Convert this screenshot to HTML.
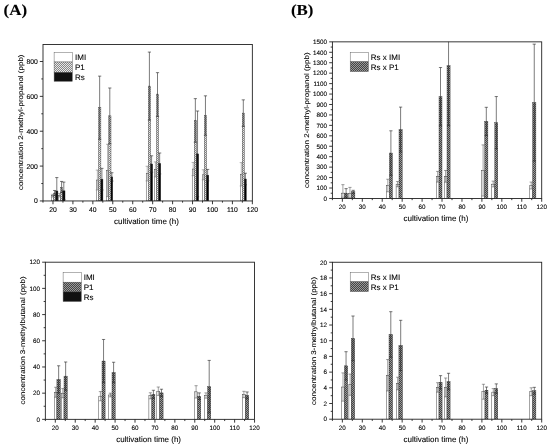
<!DOCTYPE html>
<html><head><meta charset="utf-8"><title>Figure</title>
<style>html,body{margin:0;padding:0;background:#fff}svg{display:block}text{font-family:"Liberation Sans",Arial,sans-serif;fill:#000;stroke:#000;stroke-width:0.1px;text-rendering:geometricPrecision}.t{font-family:"Liberation Serif","Times New Roman",serif;font-weight:bold;fill:#000}</style></head><body>
<svg width="550" height="448" viewBox="0 0 550 448">
<defs>
<pattern id="hl" width="2" height="2" patternUnits="userSpaceOnUse"><rect width="2" height="2" fill="#e8e8e8"/><path d="M-0.5 0.5L0.5 -0.5M0 2L2 0M1.5 2.5L2.5 1.5" stroke="#111" stroke-width="0.46"/></pattern>
<pattern id="hd" width="2" height="2" patternUnits="userSpaceOnUse"><rect width="2" height="2" fill="#999"/><path d="M-0.5 0.5L0.5 -0.5M0 2L2 0M1.5 2.5L2.5 1.5" stroke="#111" stroke-width="0.63"/></pattern>
</defs>
<rect width="550" height="448" fill="#fff"/>
<g>
<clipPath id="cA"><rect x="43" y="44.5" width="209.35" height="156.45"/></clipPath>
<g clip-path="url(#cA)">
<rect x="51.4" y="195.72" width="2.1" height="5.23" fill="#fff" stroke="#222" stroke-width="0.42"/>
<rect x="53.5" y="193.11" width="2.2" height="7.84" fill="url(#hl)" stroke="#222" stroke-width="0.35"/>
<rect x="55.7" y="191.01" width="2.2" height="9.94" fill="#000" stroke="#222" stroke-width="0.42"/>
<path d="M52.45 194.33V197.12M50.85 194.33H54.05M50.85 197.12H54.05" fill="none" stroke="#6a6a6a" stroke-width="0.5"/>
<path d="M54.6 190.49V195.72M53 190.49H56.2M53 195.72H56.2" fill="none" stroke="#222" stroke-width="0.6"/>
<path d="M56.8 177.59V200.95M55.2 177.59H58.4M55.2 200.95H58.4" fill="none" stroke="#222" stroke-width="0.6"/>
<rect x="58.6" y="195.2" width="2" height="5.75" fill="#fff" stroke="#222" stroke-width="0.42"/>
<rect x="60.6" y="187.35" width="2" height="13.6" fill="url(#hl)" stroke="#222" stroke-width="0.35"/>
<rect x="62.6" y="190.84" width="2.4" height="10.11" fill="#000" stroke="#222" stroke-width="0.42"/>
<path d="M59.6 193.45V196.94M58 193.45H61.2M58 196.94H61.2" fill="none" stroke="#6a6a6a" stroke-width="0.5"/>
<path d="M61.6 181.43V192.58M60 181.43H63.2M60 192.58H63.2" fill="none" stroke="#222" stroke-width="0.6"/>
<path d="M63.8 182.12V199.56M62.2 182.12H65.4M62.2 199.56H65.4" fill="none" stroke="#222" stroke-width="0.6"/>
<rect x="96.3" y="180.03" width="2.1" height="20.92" fill="#fff" stroke="#222" stroke-width="0.42"/>
<rect x="98.4" y="107.69" width="2.5" height="93.26" fill="url(#hl)" stroke="#222" stroke-width="0.35"/>
<rect x="100.9" y="179.16" width="2" height="21.79" fill="#000" stroke="#222" stroke-width="0.42"/>
<path d="M97.35 170.1V189.97M95.75 170.1H98.95M95.75 189.97H98.95" fill="none" stroke="#6a6a6a" stroke-width="0.5"/>
<path d="M99.65 76.14V139.24M98.05 76.14H101.25M98.05 139.24H101.25" fill="none" stroke="#222" stroke-width="0.6"/>
<path d="M101.9 168.35V189.97M100.3 168.35H103.5M100.3 189.97H103.5" fill="none" stroke="#222" stroke-width="0.6"/>
<rect x="106.6" y="170.44" width="2" height="30.51" fill="#fff" stroke="#222" stroke-width="0.42"/>
<rect x="108.6" y="115.88" width="2.4" height="85.07" fill="url(#hl)" stroke="#222" stroke-width="0.35"/>
<rect x="111" y="176.89" width="1.7" height="24.06" fill="#000" stroke="#222" stroke-width="0.42"/>
<path d="M107.6 144.3V196.59M106 144.3H109.2M106 196.59H109.2" fill="none" stroke="#6a6a6a" stroke-width="0.5"/>
<path d="M109.8 87.99V143.77M108.2 87.99H111.4M108.2 143.77H111.4" fill="none" stroke="#222" stroke-width="0.6"/>
<path d="M111.85 172.71V181.08M110.25 172.71H113.45M110.25 181.08H113.45" fill="none" stroke="#222" stroke-width="0.6"/>
<rect x="146.2" y="173.58" width="2" height="27.37" fill="#fff" stroke="#222" stroke-width="0.42"/>
<rect x="148.2" y="86.07" width="2.4" height="114.88" fill="url(#hl)" stroke="#222" stroke-width="0.35"/>
<rect x="150.6" y="163.99" width="2" height="36.96" fill="#000" stroke="#222" stroke-width="0.42"/>
<path d="M147.2 166.26V180.9M145.6 166.26H148.8M145.6 180.9H148.8" fill="none" stroke="#6a6a6a" stroke-width="0.5"/>
<path d="M149.4 52.08V120.07M147.8 52.08H151M147.8 120.07H151" fill="none" stroke="#222" stroke-width="0.6"/>
<path d="M151.6 155.8V172.19M150 155.8H153.2M150 172.19H153.2" fill="none" stroke="#222" stroke-width="0.6"/>
<rect x="154.4" y="169.4" width="2" height="31.55" fill="#fff" stroke="#222" stroke-width="0.42"/>
<rect x="156.4" y="94.09" width="2.2" height="106.86" fill="url(#hl)" stroke="#222" stroke-width="0.35"/>
<rect x="158.6" y="163.47" width="2.1" height="37.48" fill="#000" stroke="#222" stroke-width="0.42"/>
<path d="M155.4 161.9V176.89M153.8 161.9H157M153.8 176.89H157" fill="none" stroke="#6a6a6a" stroke-width="0.5"/>
<path d="M157.5 72.65V116.41M155.9 72.65H159.1M155.9 116.41H159.1" fill="none" stroke="#222" stroke-width="0.6"/>
<path d="M159.65 153.01V173.93M158.05 153.01H161.25M158.05 173.93H161.25" fill="none" stroke="#222" stroke-width="0.6"/>
<rect x="192.2" y="169.05" width="2" height="31.9" fill="#fff" stroke="#222" stroke-width="0.42"/>
<rect x="194.2" y="120.42" width="2.3" height="80.53" fill="url(#hl)" stroke="#222" stroke-width="0.35"/>
<rect x="196.5" y="153.88" width="2.1" height="47.07" fill="#000" stroke="#222" stroke-width="0.42"/>
<path d="M193.2 162.43V175.67M191.6 162.43H194.8M191.6 175.67H194.8" fill="none" stroke="#6a6a6a" stroke-width="0.5"/>
<path d="M195.35 98.63V142.2M193.75 98.63H196.95M193.75 142.2H196.95" fill="none" stroke="#222" stroke-width="0.6"/>
<path d="M197.55 111V196.77M195.95 111H199.15M195.95 196.77H199.15" fill="none" stroke="#222" stroke-width="0.6"/>
<rect x="202.4" y="174.8" width="1.9" height="26.15" fill="#fff" stroke="#222" stroke-width="0.42"/>
<rect x="204.3" y="115.53" width="2.3" height="85.42" fill="url(#hl)" stroke="#222" stroke-width="0.35"/>
<rect x="206.6" y="175.15" width="2.1" height="25.8" fill="#000" stroke="#222" stroke-width="0.42"/>
<path d="M203.35 169.75V179.86M201.75 169.75H204.95M201.75 179.86H204.95" fill="none" stroke="#6a6a6a" stroke-width="0.5"/>
<path d="M205.45 95.84V135.23M203.85 95.84H207.05M203.85 135.23H207.05" fill="none" stroke="#222" stroke-width="0.6"/>
<path d="M207.65 169.4V180.9M206.05 169.4H209.25M206.05 180.9H209.25" fill="none" stroke="#222" stroke-width="0.6"/>
<rect x="240.4" y="174.28" width="1.8" height="26.67" fill="#fff" stroke="#222" stroke-width="0.42"/>
<rect x="242.2" y="113.09" width="2.2" height="87.86" fill="url(#hl)" stroke="#222" stroke-width="0.35"/>
<rect x="244.4" y="178.99" width="1.9" height="21.96" fill="#000" stroke="#222" stroke-width="0.42"/>
<path d="M241.3 162.6V185.96M239.7 162.6H242.9M239.7 185.96H242.9" fill="none" stroke="#6a6a6a" stroke-width="0.5"/>
<path d="M243.3 99.85V126.34M241.7 99.85H244.9M241.7 126.34H244.9" fill="none" stroke="#222" stroke-width="0.6"/>
<path d="M245.35 173.23V184.74M243.75 173.23H246.95M243.75 184.74H246.95" fill="none" stroke="#222" stroke-width="0.6"/>
</g>
<rect x="43" y="44.5" width="209.35" height="156.45" fill="none" stroke="#222" stroke-width="0.9"/>
<text x="52.97" y="211.85" font-size="6.8" text-anchor="middle">20</text>
<text x="72.91" y="211.85" font-size="6.8" text-anchor="middle">30</text>
<text x="92.85" y="211.85" font-size="6.8" text-anchor="middle">40</text>
<text x="112.78" y="211.85" font-size="6.8" text-anchor="middle">50</text>
<text x="132.72" y="211.85" font-size="6.8" text-anchor="middle">60</text>
<text x="152.66" y="211.85" font-size="6.8" text-anchor="middle">70</text>
<text x="172.6" y="211.85" font-size="6.8" text-anchor="middle">80</text>
<text x="192.54" y="211.85" font-size="6.8" text-anchor="middle">90</text>
<text x="212.47" y="211.85" font-size="6.8" text-anchor="middle">100</text>
<text x="232.41" y="211.85" font-size="6.8" text-anchor="middle">110</text>
<text x="252.35" y="211.85" font-size="6.8" text-anchor="middle">120</text>
<text x="37.9" y="203.4" font-size="6.8" text-anchor="end">0</text>
<text x="37.9" y="168.53" font-size="6.8" text-anchor="end">200</text>
<text x="37.9" y="133.67" font-size="6.8" text-anchor="end">400</text>
<text x="37.9" y="98.81" font-size="6.8" text-anchor="end">600</text>
<text x="37.9" y="63.94" font-size="6.8" text-anchor="end">800</text>
<path d="M52.97 200.95v3.3M72.91 200.95v3.3M92.85 200.95v3.3M112.78 200.95v3.3M132.72 200.95v3.3M152.66 200.95v3.3M172.6 200.95v3.3M192.54 200.95v3.3M212.47 200.95v3.3M232.41 200.95v3.3M252.35 200.95v3.3M43 200.95v1.7M62.94 200.95v1.7M82.88 200.95v1.7M102.81 200.95v1.7M122.75 200.95v1.7M142.69 200.95v1.7M162.63 200.95v1.7M182.57 200.95v1.7M202.5 200.95v1.7M222.44 200.95v1.7M242.38 200.95v1.7M43 200.95h-3.2M43 183.52h-1.7M43 166.09h-3.2M43 148.65h-1.7M43 131.22h-3.2M43 113.79h-1.7M43 96.36h-3.2M43 78.93h-1.7M43 61.5h-3.2" fill="none" stroke="#222" stroke-width="0.9"/>
<text x="146.4" y="223.6" font-size="8" text-anchor="middle">cultivation time (h)</text>
<text transform="translate(22.9 122.3) rotate(-90) scale(1 0.86)" font-size="8" text-anchor="middle">concentration 2-methyl-propanol (ppb)</text>
<rect x="54.1" y="52.6" width="18.2" height="9.4" fill="#fff" stroke="#555" stroke-width="0.45"/>
<text x="75" y="59.8" font-size="8">IMI</text>
<rect x="54.1" y="62" width="18.2" height="10.4" fill="url(#hl)" stroke="#555" stroke-width="0.45"/>
<text x="75" y="69.7" font-size="8">P1</text>
<rect x="54.1" y="72.4" width="18.2" height="8.9" fill="#111" stroke="#555" stroke-width="0.45"/>
<text x="75" y="79.7" font-size="8">Rs</text>
</g>
<g>
<clipPath id="cB"><rect x="332.4" y="41.85" width="209.3" height="156.6"/></clipPath>
<g clip-path="url(#cB)">
<rect x="341.2" y="193.13" width="3.4" height="5.32" fill="#fff" stroke="#222" stroke-width="0.42"/>
<rect x="344.6" y="193.13" width="3" height="5.32" fill="url(#hd)" stroke="#222" stroke-width="0.35"/>
<path d="M342.9 184.67V197.3M341.3 184.67H344.5M341.3 197.3H344.5" fill="none" stroke="#444" stroke-width="0.5"/>
<path d="M346.1 188.64V197.3M344.5 188.64H347.7M344.5 197.3H347.7" fill="none" stroke="#222" stroke-width="0.6"/>
<rect x="348.4" y="193.65" width="3.1" height="4.8" fill="#fff" stroke="#222" stroke-width="0.42"/>
<rect x="351.5" y="191.77" width="3.4" height="6.68" fill="url(#hd)" stroke="#222" stroke-width="0.35"/>
<path d="M349.95 187.38V197.82M348.35 187.38H351.55M348.35 197.82H351.55" fill="none" stroke="#444" stroke-width="0.5"/>
<path d="M353.2 190.31V193.23M351.6 190.31H354.8M351.6 193.23H354.8" fill="none" stroke="#222" stroke-width="0.6"/>
<rect x="386.3" y="185.5" width="3.1" height="12.95" fill="#fff" stroke="#222" stroke-width="0.42"/>
<rect x="389.4" y="153.04" width="3" height="45.41" fill="url(#hd)" stroke="#222" stroke-width="0.35"/>
<path d="M387.85 179.24V191.77M386.25 179.24H389.45M386.25 191.77H389.45" fill="none" stroke="#444" stroke-width="0.5"/>
<path d="M390.9 130.8V175.27M389.3 130.8H392.5M389.3 175.27H392.5" fill="none" stroke="#222" stroke-width="0.6"/>
<rect x="396.1" y="184.15" width="2.9" height="14.3" fill="#fff" stroke="#222" stroke-width="0.42"/>
<rect x="399" y="129.55" width="3.2" height="68.9" fill="url(#hd)" stroke="#222" stroke-width="0.35"/>
<path d="M397.55 181.54V186.76M395.95 181.54H399.15M395.95 186.76H399.15" fill="none" stroke="#444" stroke-width="0.5"/>
<path d="M400.6 107.1V151.99M399 107.1H402.2M399 151.99H402.2" fill="none" stroke="#222" stroke-width="0.6"/>
<rect x="436.3" y="176.42" width="2.7" height="22.03" fill="#fff" stroke="#222" stroke-width="0.42"/>
<rect x="439" y="96.66" width="3" height="101.79" fill="url(#hd)" stroke="#222" stroke-width="0.35"/>
<path d="M437.65 171.41V182.06M436.05 171.41H439.25M436.05 182.06H439.25" fill="none" stroke="#444" stroke-width="0.5"/>
<path d="M440.5 67.53V125.79M438.9 67.53H442.1M438.9 125.79H442.1" fill="none" stroke="#222" stroke-width="0.6"/>
<rect x="444.2" y="176.21" width="2.8" height="22.24" fill="#fff" stroke="#222" stroke-width="0.42"/>
<rect x="447" y="65.65" width="3.1" height="132.8" fill="url(#hd)" stroke="#222" stroke-width="0.35"/>
<path d="M445.6 170.47V182.16M444 170.47H447.2M444 182.16H447.2" fill="none" stroke="#444" stroke-width="0.5"/>
<path d="M448.55 5.62V125.68M446.95 5.62H450.15M446.95 125.68H450.15" fill="none" stroke="#222" stroke-width="0.6"/>
<rect x="481.5" y="170.47" width="3.2" height="27.98" fill="#fff" stroke="#222" stroke-width="0.42"/>
<rect x="484.7" y="121.4" width="3.2" height="77.05" fill="url(#hd)" stroke="#222" stroke-width="0.35"/>
<path d="M483.1 144.89V196.05M481.5 144.89H484.7M481.5 196.05H484.7" fill="none" stroke="#444" stroke-width="0.5"/>
<path d="M486.3 107.31V135.5M484.7 107.31H487.9M484.7 135.5H487.9" fill="none" stroke="#222" stroke-width="0.6"/>
<rect x="491.6" y="184.15" width="3.2" height="14.3" fill="#fff" stroke="#222" stroke-width="0.42"/>
<rect x="494.8" y="122.66" width="3" height="75.79" fill="url(#hd)" stroke="#222" stroke-width="0.35"/>
<path d="M493.2 181.12V186.86M491.6 181.12H494.8M491.6 186.86H494.8" fill="none" stroke="#444" stroke-width="0.5"/>
<path d="M496.3 96.56V148.76M494.7 96.56H497.9M494.7 148.76H497.9" fill="none" stroke="#222" stroke-width="0.6"/>
<rect x="529.8" y="185.5" width="2.8" height="12.95" fill="#fff" stroke="#222" stroke-width="0.42"/>
<rect x="532.6" y="102.61" width="3.3" height="95.84" fill="url(#hd)" stroke="#222" stroke-width="0.35"/>
<path d="M531.2 182.06V188.95M529.6 182.06H532.8M529.6 188.95H532.8" fill="none" stroke="#444" stroke-width="0.5"/>
<path d="M534.25 44.15V161.07M532.65 44.15H535.85M532.65 161.07H535.85" fill="none" stroke="#222" stroke-width="0.6"/>
</g>
<rect x="332.4" y="41.85" width="209.3" height="156.6" fill="none" stroke="#222" stroke-width="0.9"/>
<text x="342.37" y="209.35" font-size="6.3" text-anchor="middle">20</text>
<text x="362.3" y="209.35" font-size="6.3" text-anchor="middle">30</text>
<text x="382.23" y="209.35" font-size="6.3" text-anchor="middle">40</text>
<text x="402.17" y="209.35" font-size="6.3" text-anchor="middle">50</text>
<text x="422.1" y="209.35" font-size="6.3" text-anchor="middle">60</text>
<text x="442.03" y="209.35" font-size="6.3" text-anchor="middle">70</text>
<text x="461.97" y="209.35" font-size="6.3" text-anchor="middle">80</text>
<text x="481.9" y="209.35" font-size="6.3" text-anchor="middle">90</text>
<text x="501.83" y="209.35" font-size="6.3" text-anchor="middle">100</text>
<text x="521.77" y="209.35" font-size="6.3" text-anchor="middle">110</text>
<text x="541.7" y="209.35" font-size="6.3" text-anchor="middle">120</text>
<text x="327" y="200.72" font-size="6.3" text-anchor="end">0</text>
<text x="327" y="190.28" font-size="6.3" text-anchor="end">100</text>
<text x="327" y="179.84" font-size="6.3" text-anchor="end">200</text>
<text x="327" y="169.4" font-size="6.3" text-anchor="end">300</text>
<text x="327" y="158.96" font-size="6.3" text-anchor="end">400</text>
<text x="327" y="148.52" font-size="6.3" text-anchor="end">500</text>
<text x="327" y="138.08" font-size="6.3" text-anchor="end">600</text>
<text x="327" y="127.64" font-size="6.3" text-anchor="end">700</text>
<text x="327" y="117.2" font-size="6.3" text-anchor="end">800</text>
<text x="327" y="106.76" font-size="6.3" text-anchor="end">900</text>
<text x="327" y="96.32" font-size="6.3" text-anchor="end">1000</text>
<text x="327" y="85.88" font-size="6.3" text-anchor="end">1100</text>
<text x="327" y="75.44" font-size="6.3" text-anchor="end">1200</text>
<text x="327" y="65" font-size="6.3" text-anchor="end">1300</text>
<text x="327" y="54.56" font-size="6.3" text-anchor="end">1400</text>
<text x="327" y="44.12" font-size="6.3" text-anchor="end">1500</text>
<path d="M342.37 198.45v3.3M362.3 198.45v3.3M382.23 198.45v3.3M402.17 198.45v3.3M422.1 198.45v3.3M442.03 198.45v3.3M461.97 198.45v3.3M481.9 198.45v3.3M501.83 198.45v3.3M521.77 198.45v3.3M541.7 198.45v3.3M332.4 198.45v1.7M352.33 198.45v1.7M372.27 198.45v1.7M392.2 198.45v1.7M412.13 198.45v1.7M432.07 198.45v1.7M452 198.45v1.7M471.93 198.45v1.7M491.87 198.45v1.7M511.8 198.45v1.7M531.73 198.45v1.7M332.4 198.45h-3.2M332.4 193.23h-1.7M332.4 188.01h-3.2M332.4 182.79h-1.7M332.4 177.57h-3.2M332.4 172.35h-1.7M332.4 167.13h-3.2M332.4 161.91h-1.7M332.4 156.69h-3.2M332.4 151.47h-1.7M332.4 146.25h-3.2M332.4 141.03h-1.7M332.4 135.81h-3.2M332.4 130.59h-1.7M332.4 125.37h-3.2M332.4 120.15h-1.7M332.4 114.93h-3.2M332.4 109.71h-1.7M332.4 104.49h-3.2M332.4 99.27h-1.7M332.4 94.05h-3.2M332.4 88.83h-1.7M332.4 83.61h-3.2M332.4 78.39h-1.7M332.4 73.17h-3.2M332.4 67.95h-1.7M332.4 62.73h-3.2M332.4 57.51h-1.7M332.4 52.29h-3.2M332.4 47.07h-1.7M332.4 41.85h-3.2" fill="none" stroke="#222" stroke-width="0.9"/>
<text x="435.9" y="221.1" font-size="8" text-anchor="middle">cultivation time (h)</text>
<text transform="translate(308.6 120.2) rotate(-90) scale(1 0.86)" font-size="8" text-anchor="middle">concentration 2-methyl-propanol (ppb)</text>
<rect x="350.2" y="52.3" width="18.2" height="9.5" fill="#fff" stroke="#555" stroke-width="0.45"/>
<text x="370.8" y="59.7" font-size="8">Rs x IMI</text>
<rect x="350.2" y="61.8" width="18.2" height="9.8" fill="url(#hd)" stroke="#555" stroke-width="0.45"/>
<text x="370.8" y="69.5" font-size="8">Rs x P1</text>
</g>
<g>
<clipPath id="cC"><rect x="45.35" y="262.2" width="209.2" height="157.15"/></clipPath>
<g clip-path="url(#cC)">
<rect x="54.5" y="392.24" width="2.4" height="27.11" fill="#fff" stroke="#222" stroke-width="0.42"/>
<rect x="56.9" y="379.41" width="3.5" height="39.94" fill="url(#hd)" stroke="#222" stroke-width="0.35"/>
<path d="M55.7 387.27V397.22M54.1 387.27H57.3M54.1 397.22H57.3" fill="none" stroke="#444" stroke-width="0.5"/>
<path d="M58.65 365.79V393.03M57.05 365.79H60.25M57.05 393.03H60.25" fill="none" stroke="#222" stroke-width="0.6"/>
<rect x="61.7" y="393.16" width="2.3" height="26.19" fill="#fff" stroke="#222" stroke-width="0.42"/>
<rect x="64" y="376.13" width="3.3" height="43.22" fill="url(#hd)" stroke="#222" stroke-width="0.35"/>
<path d="M62.85 388.57V397.74M61.25 388.57H64.45M61.25 397.74H64.45" fill="none" stroke="#444" stroke-width="0.5"/>
<path d="M65.65 361.99V390.28M64.05 361.99H67.25M64.05 390.28H67.25" fill="none" stroke="#222" stroke-width="0.6"/>
<rect x="98.8" y="396.17" width="3.2" height="23.18" fill="#fff" stroke="#222" stroke-width="0.42"/>
<rect x="102" y="361.07" width="3.1" height="58.28" fill="url(#hd)" stroke="#222" stroke-width="0.35"/>
<path d="M100.4 391.59V400.75M98.8 391.59H102M98.8 400.75H102" fill="none" stroke="#444" stroke-width="0.5"/>
<path d="M103.55 339.47V382.68M101.95 339.47H105.15M101.95 382.68H105.15" fill="none" stroke="#222" stroke-width="0.6"/>
<rect x="108.7" y="394.99" width="3.3" height="24.36" fill="#fff" stroke="#222" stroke-width="0.42"/>
<rect x="112" y="372.47" width="3.2" height="46.88" fill="url(#hd)" stroke="#222" stroke-width="0.35"/>
<path d="M110.35 393.16V396.83M108.75 393.16H111.95M108.75 396.83H111.95" fill="none" stroke="#444" stroke-width="0.5"/>
<path d="M113.6 362.25V382.68M112 362.25H115.2M112 382.68H115.2" fill="none" stroke="#222" stroke-width="0.6"/>
<rect x="148.9" y="395.78" width="3" height="23.57" fill="#fff" stroke="#222" stroke-width="0.42"/>
<rect x="151.9" y="394.34" width="3" height="25.01" fill="url(#hd)" stroke="#222" stroke-width="0.35"/>
<path d="M150.4 392.77V398.79M148.8 392.77H152M148.8 398.79H152" fill="none" stroke="#444" stroke-width="0.5"/>
<path d="M153.4 390.28V398.4M151.8 390.28H155M151.8 398.4H155" fill="none" stroke="#222" stroke-width="0.6"/>
<rect x="156.8" y="391.19" width="3" height="28.16" fill="#fff" stroke="#222" stroke-width="0.42"/>
<rect x="159.8" y="392.9" width="3.3" height="26.45" fill="url(#hd)" stroke="#222" stroke-width="0.35"/>
<path d="M158.3 387V395.38M156.7 387H159.9M156.7 395.38H159.9" fill="none" stroke="#444" stroke-width="0.5"/>
<path d="M161.45 389.23V396.56M159.85 389.23H163.05M159.85 396.56H163.05" fill="none" stroke="#222" stroke-width="0.6"/>
<rect x="194.5" y="391.85" width="3.2" height="27.5" fill="#fff" stroke="#222" stroke-width="0.42"/>
<rect x="197.7" y="396.17" width="3.1" height="23.18" fill="url(#hd)" stroke="#222" stroke-width="0.35"/>
<path d="M196.1 385.69V398M194.5 385.69H197.7M194.5 398H197.7" fill="none" stroke="#444" stroke-width="0.5"/>
<path d="M199.25 392.9V399.44M197.65 392.9H200.85M197.65 399.44H200.85" fill="none" stroke="#222" stroke-width="0.6"/>
<rect x="204.4" y="395.52" width="3.2" height="23.83" fill="#fff" stroke="#222" stroke-width="0.42"/>
<rect x="207.6" y="386.61" width="3.2" height="32.74" fill="url(#hd)" stroke="#222" stroke-width="0.35"/>
<path d="M206 392.9V398.13M204.4 392.9H207.6M204.4 398.13H207.6" fill="none" stroke="#444" stroke-width="0.5"/>
<path d="M209.2 360.42V412.8M207.6 360.42H210.8M207.6 412.8H210.8" fill="none" stroke="#222" stroke-width="0.6"/>
<rect x="242.4" y="394.47" width="3" height="24.88" fill="#fff" stroke="#222" stroke-width="0.42"/>
<rect x="245.4" y="395.38" width="3.4" height="23.97" fill="url(#hd)" stroke="#222" stroke-width="0.35"/>
<path d="M243.9 391.32V397.61M242.3 391.32H245.5M242.3 397.61H245.5" fill="none" stroke="#444" stroke-width="0.5"/>
<path d="M247.1 391.98V398.79M245.5 391.98H248.7M245.5 398.79H248.7" fill="none" stroke="#222" stroke-width="0.6"/>
</g>
<rect x="45.35" y="262.2" width="209.2" height="157.15" fill="none" stroke="#222" stroke-width="0.9"/>
<text x="55.31" y="429.95" font-size="6.3" text-anchor="middle">20</text>
<text x="75.24" y="429.95" font-size="6.3" text-anchor="middle">30</text>
<text x="95.16" y="429.95" font-size="6.3" text-anchor="middle">40</text>
<text x="115.08" y="429.95" font-size="6.3" text-anchor="middle">50</text>
<text x="135.01" y="429.95" font-size="6.3" text-anchor="middle">60</text>
<text x="154.93" y="429.95" font-size="6.3" text-anchor="middle">70</text>
<text x="174.85" y="429.95" font-size="6.3" text-anchor="middle">80</text>
<text x="194.78" y="429.95" font-size="6.3" text-anchor="middle">90</text>
<text x="214.7" y="429.95" font-size="6.3" text-anchor="middle">100</text>
<text x="234.63" y="429.95" font-size="6.3" text-anchor="middle">110</text>
<text x="254.55" y="429.95" font-size="6.3" text-anchor="middle">120</text>
<text x="39.95" y="421.62" font-size="6.3" text-anchor="end">0</text>
<text x="39.95" y="395.43" font-size="6.3" text-anchor="end">20</text>
<text x="39.95" y="369.23" font-size="6.3" text-anchor="end">40</text>
<text x="39.95" y="343.04" font-size="6.3" text-anchor="end">60</text>
<text x="39.95" y="316.85" font-size="6.3" text-anchor="end">80</text>
<text x="39.95" y="290.66" font-size="6.3" text-anchor="end">100</text>
<text x="39.95" y="264.47" font-size="6.3" text-anchor="end">120</text>
<path d="M55.31 419.35v3.3M75.24 419.35v3.3M95.16 419.35v3.3M115.08 419.35v3.3M135.01 419.35v3.3M154.93 419.35v3.3M174.85 419.35v3.3M194.78 419.35v3.3M214.7 419.35v3.3M234.63 419.35v3.3M254.55 419.35v3.3M45.35 419.35v1.7M65.27 419.35v1.7M85.2 419.35v1.7M105.12 419.35v1.7M125.05 419.35v1.7M144.97 419.35v1.7M164.89 419.35v1.7M184.82 419.35v1.7M204.74 419.35v1.7M224.66 419.35v1.7M244.59 419.35v1.7M45.35 419.35h-3.2M45.35 406.25h-1.7M45.35 393.16h-3.2M45.35 380.06h-1.7M45.35 366.97h-3.2M45.35 353.87h-1.7M45.35 340.77h-3.2M45.35 327.68h-1.7M45.35 314.58h-3.2M45.35 301.49h-1.7M45.35 288.39h-3.2M45.35 275.3h-1.7M45.35 262.2h-3.2" fill="none" stroke="#222" stroke-width="0.9"/>
<text x="148.6" y="441.8" font-size="8" text-anchor="middle">cultivation time (h)</text>
<text transform="translate(24.7 340.4) rotate(-90) scale(1 0.86)" font-size="8" text-anchor="middle">concentration 3-methylbutanal (ppb)</text>
<rect x="63.1" y="272.6" width="18.2" height="9.6" fill="#fff" stroke="#555" stroke-width="0.45"/>
<text x="83.7" y="279.7" font-size="8">IMI</text>
<rect x="63.1" y="282.2" width="18.2" height="9.7" fill="url(#hd)" stroke="#555" stroke-width="0.45"/>
<text x="83.7" y="289.7" font-size="8">P1</text>
<rect x="63.1" y="291.9" width="18.2" height="9.6" fill="#111" stroke="#555" stroke-width="0.45"/>
<text x="83.7" y="299.6" font-size="8">Rs</text>
</g>
<g>
<clipPath id="cD"><rect x="332.4" y="262.25" width="209.3" height="156.95"/></clipPath>
<g clip-path="url(#cD)">
<rect x="341.6" y="387.03" width="2.8" height="32.17" fill="#fff" stroke="#222" stroke-width="0.42"/>
<rect x="344.4" y="365.84" width="3.3" height="53.36" fill="url(#hd)" stroke="#222" stroke-width="0.35"/>
<path d="M343 372.9V401.15M341.4 372.9H344.6M341.4 401.15H344.6" fill="none" stroke="#444" stroke-width="0.5"/>
<path d="M346.05 351.71V379.96M344.45 351.71H347.65M344.45 379.96H347.65" fill="none" stroke="#222" stroke-width="0.6"/>
<rect x="348.9" y="384.67" width="2.4" height="34.53" fill="#fff" stroke="#222" stroke-width="0.42"/>
<rect x="351.3" y="338.37" width="3.4" height="80.83" fill="url(#hd)" stroke="#222" stroke-width="0.35"/>
<path d="M350.1 374.08V395.27M348.5 374.08H351.7M348.5 395.27H351.7" fill="none" stroke="#444" stroke-width="0.5"/>
<path d="M353 316.01V360.74M351.4 316.01H354.6M351.4 360.74H354.6" fill="none" stroke="#222" stroke-width="0.6"/>
<rect x="386.4" y="375.25" width="2.6" height="43.95" fill="#fff" stroke="#222" stroke-width="0.42"/>
<rect x="389" y="334.45" width="3.6" height="84.75" fill="url(#hd)" stroke="#222" stroke-width="0.35"/>
<path d="M387.7 359.56V390.95M386.1 359.56H389.3M386.1 390.95H389.3" fill="none" stroke="#444" stroke-width="0.5"/>
<path d="M390.8 311.69V357.2M389.2 311.69H392.4M389.2 357.2H392.4" fill="none" stroke="#222" stroke-width="0.6"/>
<rect x="396.4" y="383.49" width="2.5" height="35.71" fill="#fff" stroke="#222" stroke-width="0.42"/>
<rect x="398.9" y="345.43" width="3.6" height="73.77" fill="url(#hd)" stroke="#222" stroke-width="0.35"/>
<path d="M397.65 377.22V389.77M396.05 377.22H399.25M396.05 389.77H399.25" fill="none" stroke="#444" stroke-width="0.5"/>
<path d="M400.7 320.32V370.55M399.1 320.32H402.3M399.1 370.55H402.3" fill="none" stroke="#222" stroke-width="0.6"/>
<rect x="436.3" y="387.42" width="2.7" height="31.78" fill="#fff" stroke="#222" stroke-width="0.42"/>
<rect x="439" y="382.32" width="3.1" height="36.88" fill="url(#hd)" stroke="#222" stroke-width="0.35"/>
<path d="M437.65 382.71V392.13M436.05 382.71H439.25M436.05 392.13H439.25" fill="none" stroke="#444" stroke-width="0.5"/>
<path d="M440.55 375.65V388.99M438.95 375.65H442.15M438.95 388.99H442.15" fill="none" stroke="#222" stroke-width="0.6"/>
<rect x="444.4" y="387.42" width="2.6" height="31.78" fill="#fff" stroke="#222" stroke-width="0.42"/>
<rect x="447" y="381.53" width="3.1" height="37.67" fill="url(#hd)" stroke="#222" stroke-width="0.35"/>
<path d="M445.7 378V396.83M444.1 378H447.3M444.1 396.83H447.3" fill="none" stroke="#444" stroke-width="0.5"/>
<path d="M448.55 373.29V389.77M446.95 373.29H450.15M446.95 389.77H450.15" fill="none" stroke="#222" stroke-width="0.6"/>
<rect x="481.9" y="391.73" width="3.1" height="27.47" fill="#fff" stroke="#222" stroke-width="0.42"/>
<rect x="485" y="390.16" width="3" height="29.04" fill="url(#hd)" stroke="#222" stroke-width="0.35"/>
<path d="M483.45 384.28V399.19M481.85 384.28H485.05M481.85 399.19H485.05" fill="none" stroke="#444" stroke-width="0.5"/>
<path d="M486.5 387.03V393.3M484.9 387.03H488.1M484.9 393.3H488.1" fill="none" stroke="#222" stroke-width="0.6"/>
<rect x="491.8" y="392.13" width="3" height="27.07" fill="#fff" stroke="#222" stroke-width="0.42"/>
<rect x="494.8" y="388.59" width="3" height="30.61" fill="url(#hd)" stroke="#222" stroke-width="0.35"/>
<path d="M493.3 388.59V395.66M491.7 388.59H494.9M491.7 395.66H494.9" fill="none" stroke="#444" stroke-width="0.5"/>
<path d="M496.3 383.89V393.3M494.7 383.89H497.9M494.7 393.3H497.9" fill="none" stroke="#222" stroke-width="0.6"/>
<rect x="529.8" y="391.73" width="2.9" height="27.47" fill="#fff" stroke="#222" stroke-width="0.42"/>
<rect x="532.7" y="390.71" width="3.2" height="28.49" fill="url(#hd)" stroke="#222" stroke-width="0.35"/>
<path d="M531.25 387.81V395.66M529.65 387.81H532.85M529.65 395.66H532.85" fill="none" stroke="#444" stroke-width="0.5"/>
<path d="M534.3 387.34V394.09M532.7 387.34H535.9M532.7 394.09H535.9" fill="none" stroke="#222" stroke-width="0.6"/>
</g>
<rect x="332.4" y="262.25" width="209.3" height="156.95" fill="none" stroke="#222" stroke-width="0.9"/>
<text x="342.37" y="429.8" font-size="6.3" text-anchor="middle">20</text>
<text x="362.3" y="429.8" font-size="6.3" text-anchor="middle">30</text>
<text x="382.23" y="429.8" font-size="6.3" text-anchor="middle">40</text>
<text x="402.17" y="429.8" font-size="6.3" text-anchor="middle">50</text>
<text x="422.1" y="429.8" font-size="6.3" text-anchor="middle">60</text>
<text x="442.03" y="429.8" font-size="6.3" text-anchor="middle">70</text>
<text x="461.97" y="429.8" font-size="6.3" text-anchor="middle">80</text>
<text x="481.9" y="429.8" font-size="6.3" text-anchor="middle">90</text>
<text x="501.83" y="429.8" font-size="6.3" text-anchor="middle">100</text>
<text x="521.77" y="429.8" font-size="6.3" text-anchor="middle">110</text>
<text x="541.7" y="429.8" font-size="6.3" text-anchor="middle">120</text>
<text x="327" y="421.47" font-size="6.3" text-anchor="end">0</text>
<text x="327" y="405.77" font-size="6.3" text-anchor="end">2</text>
<text x="327" y="390.08" font-size="6.3" text-anchor="end">4</text>
<text x="327" y="374.38" font-size="6.3" text-anchor="end">6</text>
<text x="327" y="358.69" font-size="6.3" text-anchor="end">8</text>
<text x="327" y="342.99" font-size="6.3" text-anchor="end">10</text>
<text x="327" y="327.3" font-size="6.3" text-anchor="end">12</text>
<text x="327" y="311.6" font-size="6.3" text-anchor="end">14</text>
<text x="327" y="295.91" font-size="6.3" text-anchor="end">16</text>
<text x="327" y="280.21" font-size="6.3" text-anchor="end">18</text>
<text x="327" y="264.52" font-size="6.3" text-anchor="end">20</text>
<path d="M342.37 419.2v3.3M362.3 419.2v3.3M382.23 419.2v3.3M402.17 419.2v3.3M422.1 419.2v3.3M442.03 419.2v3.3M461.97 419.2v3.3M481.9 419.2v3.3M501.83 419.2v3.3M521.77 419.2v3.3M541.7 419.2v3.3M332.4 419.2v1.7M352.33 419.2v1.7M372.27 419.2v1.7M392.2 419.2v1.7M412.13 419.2v1.7M432.07 419.2v1.7M452 419.2v1.7M471.93 419.2v1.7M491.87 419.2v1.7M511.8 419.2v1.7M531.73 419.2v1.7M332.4 419.2h-3.2M332.4 411.35h-1.7M332.4 403.5h-3.2M332.4 395.66h-1.7M332.4 387.81h-3.2M332.4 379.96h-1.7M332.4 372.12h-3.2M332.4 364.27h-1.7M332.4 356.42h-3.2M332.4 348.57h-1.7M332.4 340.73h-3.2M332.4 332.88h-1.7M332.4 325.03h-3.2M332.4 317.18h-1.7M332.4 309.33h-3.2M332.4 301.49h-1.7M332.4 293.64h-3.2M332.4 285.79h-1.7M332.4 277.94h-3.2M332.4 270.1h-1.7M332.4 262.25h-3.2" fill="none" stroke="#222" stroke-width="0.9"/>
<text x="435.9" y="441.5" font-size="8" text-anchor="middle">cultivation time (h)</text>
<text transform="translate(316.2 340.9) rotate(-90) scale(1 0.86)" font-size="8" text-anchor="middle">concentration 3-methylbutanal (ppb)</text>
<rect x="350.2" y="272.3" width="18.2" height="9.5" fill="#fff" stroke="#555" stroke-width="0.45"/>
<text x="370.8" y="279.7" font-size="8">Rs x IMI</text>
<rect x="350.2" y="281.8" width="18.2" height="9.8" fill="url(#hd)" stroke="#555" stroke-width="0.45"/>
<text x="370.8" y="289.5" font-size="8">Rs x P1</text>
</g>
<text class="t" transform="translate(3.6 15.15) scale(1.11 1)" font-size="15.3">(A)</text>
<text class="t" transform="translate(291 14.95) scale(1.10 1)" font-size="15.3">(B)</text>
</svg>
</body></html>
